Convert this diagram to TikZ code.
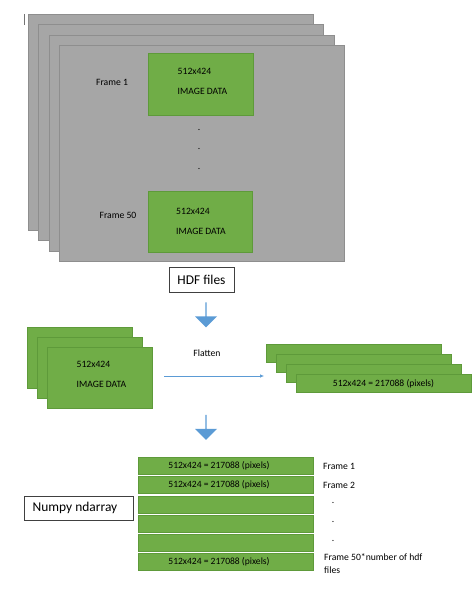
\documentclass[tikz,border=0pt]{standalone}
\usepackage{fontspec}
\setmainfont{Carlito}
\usetikzlibrary{shapes.arrows,arrows.meta}
\definecolor{gfill}{HTML}{70AD47}
\definecolor{gdraw}{HTML}{5E9A3A}
\definecolor{hfill}{HTML}{A6A6A6}
\definecolor{hdraw}{HTML}{8E8E8E}
\definecolor{bluearr}{HTML}{5B9BD5}
\tikzset{
  hdfbox/.style={draw=hdraw, fill=hfill, line width=0.8bp, minimum width=285bp, minimum height=216bp, inner sep=0pt},
  imgbox/.style={draw=gdraw, fill=gfill, line width=0.8bp, inner sep=0pt},
  rowbox/.style={draw=gdraw, fill=gfill, line width=0.6bp, minimum width=175bp, minimum height=17bp, inner sep=0pt, font=\fontsize{9.6}{11}\selectfont},
  small/.style={inner sep=0pt, font=\fontsize{9.7}{11}\selectfont},
  twoline/.style={inner sep=0pt, align=left, font=\fontsize{9.7}{20}\selectfont},
  bigbox/.style={draw=black!75, fill=white, line width=0.7bp, inner sep=0pt, font=\fontsize{13.5}{16}\selectfont},
  downarrow/.style={single arrow, fill=bluearr, draw=none, minimum height=25bp, minimum width=22bp, single arrow head extend=3.5bp, single arrow head indent=0pt, inner sep=0pt, rotate=-90},
}
\begin{document}
\begin{tikzpicture}[x=1bp,y=-1bp]
\useasboundingbox (0,0) rectangle (474,601);
% stray tick
\coordinate (t1) at (24.5,14);
\coordinate (t2) at (24.5,25);
\draw[black!55, line width=0.8bp] (t1) -- (t2);
% HDF file stack
\node[hdfbox] (h1) at (170.5,122) {};
\node[hdfbox] (h2) at (181,132.5) {};
\node[hdfbox] (h3) at (191.5,143) {};
\node[hdfbox] (h4) at (201.5,153) {};
\node[imgbox, minimum width=105bp, minimum height=62bp] (g1) at (200.5,84) {};
\node[imgbox, minimum width=104bp, minimum height=61bp] (g2) at (200,221.5) {};
\node[twoline, anchor=west] (g1t) at (177.5,81) {512x424\\IMAGE DATA};
\node[twoline, anchor=west] (g2t) at (176,221) {512x424\\IMAGE DATA};
\node[small] (f1) at (112,82) {Frame 1};
\node[small] (f50) at (118,215) {Frame 50};
\node[small, anchor=base] (d1) at (199,131) {.};
\node[small, anchor=base] (d2) at (199,150) {.};
\node[small, anchor=base] (d3) at (199,170) {.};
\node[bigbox, minimum width=65bp, minimum height=25bp] (hdf) at (201.5,279.5) {HDF files};
% block arrows
\node[downarrow] (a1) at (206,314.5) {};
\node[downarrow] (a2) at (206,427) {};
% left green stack
\node[imgbox, minimum width=105bp, minimum height=61bp] (l1) at (79.5,357.5) {};
\node[imgbox, minimum width=105bp, minimum height=61bp] (l2) at (90,367.5) {};
\node[imgbox, minimum width=105bp, minimum height=61bp] (l3) at (100,377.5) {};
\node[twoline, anchor=west] (l3t) at (76.5,374.5) {512x424\\IMAGE DATA};
% flatten arrow
\node[small] (flat) at (207,353) {Flatten};
\coordinate (fs) at (164,376);
\coordinate (fe) at (264,376);
\draw[bluearr, line width=0.6bp, -{Latex[length=4bp,width=3.5bp]}] (fs) -- (fe);
% right flattened stack
\node[rowbox, minimum height=18bp] (s1) at (353.5,353) {};
\node[rowbox, minimum height=18bp] (s2) at (363.5,363.5) {};
\node[rowbox, minimum height=18bp] (s3) at (373.5,373.5) {};
\node[rowbox, minimum height=18bp] (s4) at (383.5,383.5) {512x424 = 217088 (pixels)};
% numpy ndarray
\node[rowbox] (r1) at (225.5,466) {\hspace*{-13bp}512x424 = 217088 (pixels)};
\node[rowbox] (r2) at (225.5,485) {\hspace*{-13bp}512x424 = 217088 (pixels)};
\node[rowbox] (r3) at (225.5,504.5) {};
\node[rowbox] (r4) at (225.5,523.5) {};
\node[rowbox] (r5) at (225.5,542.5) {};
\node[rowbox] (r6) at (225.5,561.5) {\hspace*{-13bp}512x424 = 217088 (pixels)};
\node[small, anchor=west] (fr1) at (323,466) {Frame 1};
\node[small, anchor=west] (fr2) at (323,485) {Frame 2};
\node[small, anchor=base] (e1) at (333,503) {.};
\node[small, anchor=base] (e2) at (333,522) {.};
\node[small, anchor=base] (e3) at (333,541) {.};
\node[inner sep=0pt, align=left, anchor=north west, font=\fontsize{9.7}{13}\selectfont] (frn) at (324,553.5) {Frame 50*number of hdf\\files};
\node[bigbox, minimum width=109bp, minimum height=24bp] (np) at (78.5,508) {\hspace*{-7bp}Numpy ndarray};
\end{tikzpicture}
\end{document}
